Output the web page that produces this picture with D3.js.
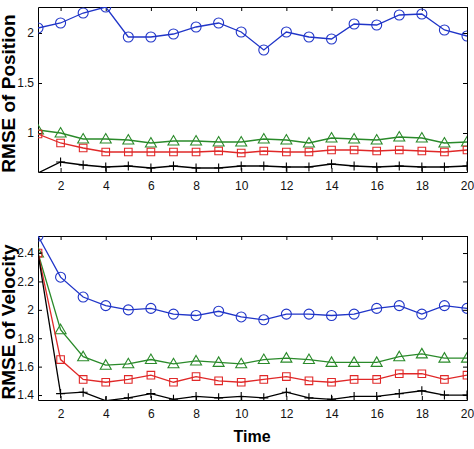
<!DOCTYPE html>
<html><head><meta charset="utf-8">
<script src="https://d3js.org/d3.v7.min.js"></script>
<style>body{margin:0;background:#fff}svg{font-family:"Liberation Sans Narrow","Liberation Sans",Arial,sans-serif}</style>
</head><body><div id="chart"></div>
<script>
const time = d3.range(1, 21);
const posBlue  = [2.05,2.10,2.20,2.26,1.96,1.96,1.99,2.06,2.10,2.01,1.83,2.01,1.96,1.94,2.09,2.08,2.18,2.19,2.03,1.97];
const posGreen = [1.03,1.00,0.94,0.94,0.93,0.90,0.92,0.92,0.91,0.91,0.94,0.93,0.90,0.95,0.94,0.93,0.96,0.95,0.90,0.91];
const posRed   = [0.99,0.90,0.85,0.81,0.81,0.81,0.81,0.81,0.82,0.80,0.82,0.81,0.81,0.83,0.83,0.82,0.83,0.82,0.81,0.83];
const posBlack = [0.60,0.71,0.68,0.66,0.67,0.65,0.67,0.65,0.65,0.67,0.67,0.66,0.66,0.69,0.67,0.66,0.67,0.66,0.66,0.67];
const velBlue  = [2.52,2.23,2.09,2.03,2.00,2.01,1.97,1.96,1.99,1.95,1.93,1.97,1.97,1.96,1.97,2.01,2.03,1.97,2.03,2.01];
const velGreen = [2.40,1.86,1.67,1.61,1.62,1.65,1.62,1.64,1.63,1.62,1.65,1.66,1.65,1.63,1.63,1.63,1.67,1.69,1.66,1.66];
const velRed   = [2.40,1.65,1.51,1.49,1.51,1.54,1.49,1.53,1.50,1.49,1.51,1.53,1.50,1.49,1.51,1.51,1.55,1.55,1.51,1.54];
const velBlack = [2.40,1.41,1.42,1.36,1.38,1.41,1.37,1.39,1.38,1.39,1.38,1.42,1.38,1.37,1.39,1.39,1.41,1.43,1.40,1.40];
const xTicks = d3.range(2, 21, 2);
const posTicks = [1, 1.5, 2];
const velTicks = [1.4, 1.6, 1.8, 2, 2.2, 2.4];

const W = 474, H = 449;
const svg = d3.select("#chart").append("svg").attr("width", W).attr("height", H);
const x = d3.scaleLinear().domain([1, 20]).range([38, 467]);

const shapes = {
  circle: "M5,0A5,5 0 1,1 -5,0A5,5 0 1,1 5,0Z",
  triangle: "M0,-5.5L5.5,4L-5.5,4Z",
  square: "M-3.8,-3.8H3.8V3.8H-3.8Z",
  plus: "M-4.5,0H4.5M0,-4.5V4.5"
};

function panel(id, top, bottom, domain, yTicks, series, label) {
  const y = d3.scaleLinear().domain(domain).range([bottom, top]);
  svg.append("clipPath").attr("id", id).append("rect")
    .attr("x", 38).attr("y", top).attr("width", 429).attr("height", bottom - top);
  const g = svg.append("g");
  const ax = (axis, tr) => g.append("g").attr("transform", tr).call(axis)
    .call(s => s.select(".domain").attr("stroke", "#000"))
    .call(s => s.selectAll("text").style("font-size", "12px").attr("fill", "#111"));
  ax(d3.axisBottom(x).tickValues(xTicks).tickSizeInner(-4).tickSizeOuter(0).tickPadding(9), `translate(0,${bottom})`);
  ax(d3.axisTop(x).tickValues(xTicks).tickSizeInner(-4).tickSizeOuter(0).tickFormat(""), `translate(0,${top})`);
  ax(d3.axisLeft(y).tickValues(yTicks).tickSizeInner(-4).tickSizeOuter(0).tickPadding(4).tickFormat(d3.format("~g")), `translate(38,0)`);
  ax(d3.axisRight(y).tickValues(yTicks).tickSizeInner(-4).tickSizeOuter(0).tickFormat(""), `translate(467,0)`);

  const pg = g.append("g").attr("clip-path", `url(#${id})`);
  const line = d3.line().x((d, i) => x(time[i])).y(d => y(d));
  series.forEach(s => {
    pg.append("path").datum(s.v).attr("d", line).attr("fill", "none")
      .attr("stroke", s.c).attr("stroke-width", 1.3);
    pg.selectAll(null).data(s.v).enter().append("path")
      .attr("transform", (d, i) => `translate(${x(time[i])},${y(d)})`)
      .attr("d", shapes[s.t])
      .attr("fill", "none").attr("stroke", s.c).attr("stroke-width", 1.1);
  });
  svg.append("text").attr("transform", `translate(15,${(top + bottom) / 2 + 4}) rotate(-90)`)
    .attr("text-anchor", "middle").style("font-family", "Liberation Sans, Arial, sans-serif")
    .style("font-size", "19px").style("font-weight", "bold").text(label);
}

const mk = (b, g2, r, k) => [
  {v: b, c: "#2035c8", t: "circle"},
  {v: g2, c: "#2a8a2a", t: "triangle"},
  {v: r, c: "#e02828", t: "square"},
  {v: k, c: "#000", t: "plus"}
];
panel("c1", 7, 172, [0.61, 2.26], posTicks, mk(posBlue, posGreen, posRed, posBlack), "RMSE of Position");
panel("c2", 236, 400, [1.365, 2.52], velTicks, mk(velBlue, velGreen, velRed, velBlack), "RMSE of Velocity");
svg.append("text").attr("x", 252).attr("y", 442).attr("text-anchor", "middle")
  .style("font-size", "16px").style("font-weight", "bold").text("Time");
</script></body></html>
